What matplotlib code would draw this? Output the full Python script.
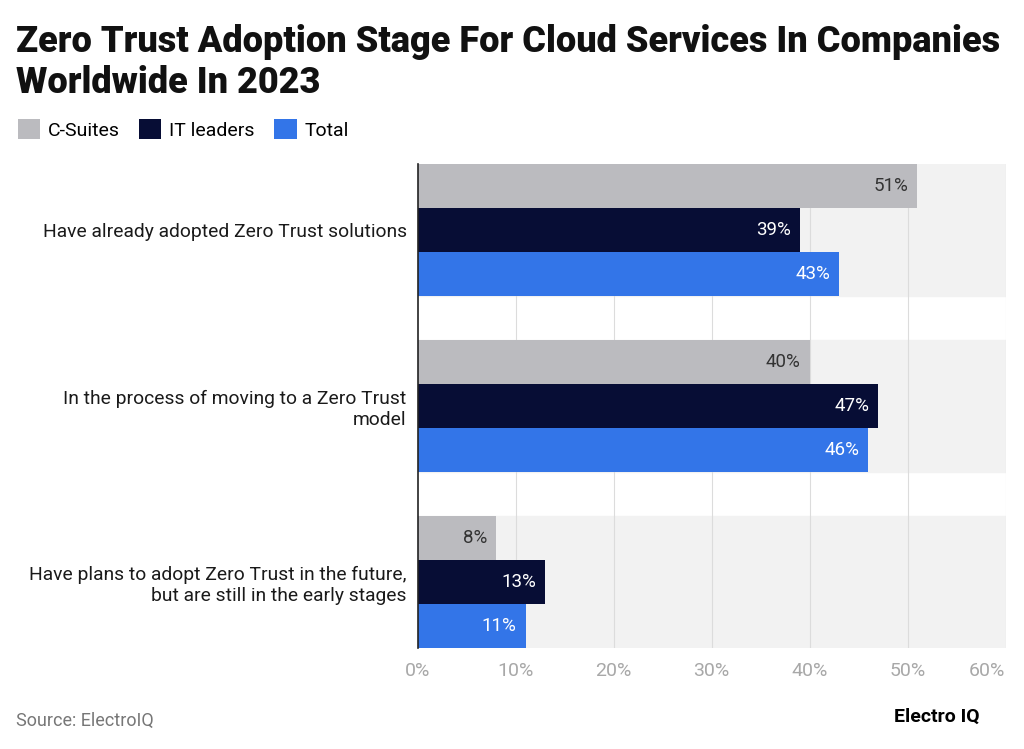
import matplotlib.pyplot as plt
from matplotlib.patches import Patch
import numpy as np

plt.rcParams['font.family'] = ['Roboto', 'DejaVu Sans']

# данные
categories = [
    "Have already adopted Zero Trust solutions",
    "In the process of moving to a Zero Trust\nmodel",
    "Have plans to adopt Zero Trust in the future,\nbut are still in the early stages",
]
series_names = ["C-Suites", "IT leaders", "Total"]
c_suites = [51, 40, 8]
it_leaders = [39, 47, 13]
total = [43, 46, 11]
x_ticks = [0, 10, 20, 30, 40, 50, 60]

colors = ["#bbbbbf", "#070d35", "#3375e8"]
text_colors = ["#333333", "white", "white"]

fig = plt.figure(figsize=(10.24, 7.49), dpi=100)
ax = fig.add_axes([0.408, 0.135, 0.574, 0.646])

y = np.arange(len(categories))
h = 0.25

# серые полосы за группами
for yi in y:
    ax.axhspan(yi - 0.375, yi + 0.375, color="#f2f2f2", zorder=0)

for xt in x_ticks[1:]:
    ax.axvline(xt, color="#dcdcdc", lw=0.8, zorder=1)

all_vals = [c_suites, it_leaders, total]
for i, vals in enumerate(all_vals):
    pos = y + (i - 1) * h
    ax.barh(pos, vals, height=h, color=colors[i], zorder=2)
    for p, v in zip(pos, vals):
        ax.text(v - 0.9, p, f"{v}%", ha="right", va="center",
                color=text_colors[i], fontsize=13.5, zorder=3)

ax.set_xlim(0, 60)
ax.set_ylim(2.375, -0.375)
ax.set_yticks(y)
ax.set_yticklabels(categories, fontsize=13.9, color="#1a1a1a", ha="right")
ax.set_xticks(x_ticks)
ax.set_xticklabels([f"{t}%" for t in x_ticks], fontsize=14, color="#a8a8a8")
ax.get_xticklabels()[-1].set_ha("right")
ax.tick_params(axis="both", length=0)
ax.tick_params(axis="y", pad=8)
ax.tick_params(axis="x", pad=10)
for s in ["top", "right", "bottom"]:
    ax.spines[s].set_visible(False)
ax.spines["left"].set_color("#222222")
ax.spines["left"].set_linewidth(1.2)
ax.spines["left"].set_zorder(4)

fig.text(0.016, 0.968, "Zero Trust Adoption Stage For Cloud Services In Companies\nWorldwide In 2023",
         fontsize=26, fontweight="black", va="top", ha="left", color="#111111", linespacing=1.18)

handles = [Patch(facecolor=c, label=n) for c, n in zip(colors, series_names)]
fig.legend(handles=handles, loc="upper left", bbox_to_anchor=(0.0, 0.864), ncol=3,
           frameon=False, fontsize=14, handlelength=1.15, handleheight=1.15,
           handletextpad=0.4, columnspacing=1.0)

fig.text(0.016, 0.037, "Source: ElectroIQ", fontsize=13, color="#777777", ha="left", va="center")
fig.text(0.957, 0.043, "Electro IQ", fontsize=14, fontweight="bold", color="black",
         ha="right", va="center")

fig.savefig("out.png", dpi=100)
